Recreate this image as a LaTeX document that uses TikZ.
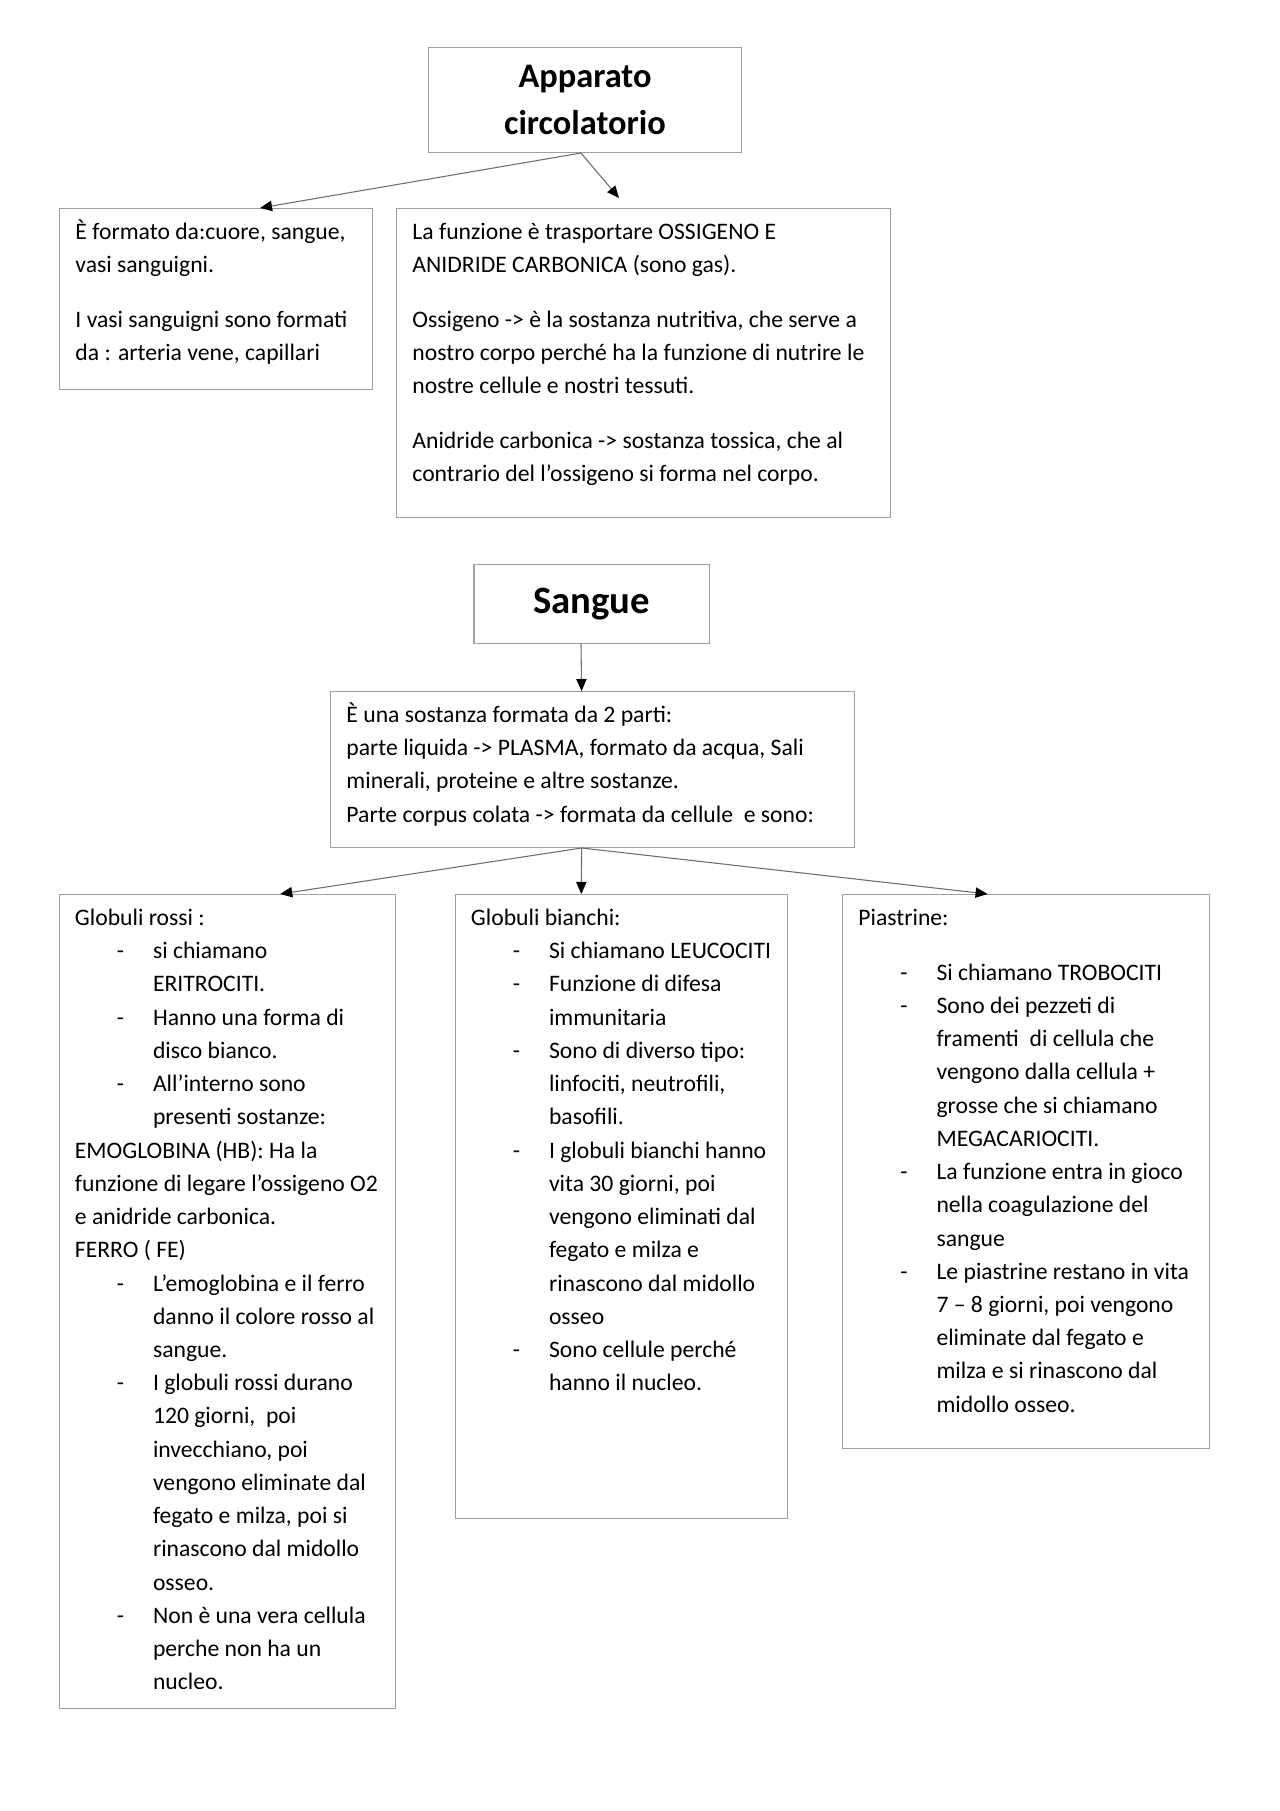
\documentclass[tikz,border=0pt]{standalone}
\usepackage{fontspec}
\setmainfont{Carlito}
\usetikzlibrary{arrows.meta,calc}

\definecolor{bordo}{HTML}{A0A0A0}
\definecolor{linea}{HTML}{6E6E6E}

\newcommand{\riquadro}[3]{\hspace{7.4pt}\parbox[t][#2][t]{\dimexpr#1-7.4pt\relax}{\raggedright\rule{0pt}{14.4pt}#3}}
\newcommand{\voce}{\makebox[36.3pt][l]{\hspace{19.5pt}-}}
\newcommand{\rientro}{\hspace*{36.3pt}}

\begin{document}
\begin{tikzpicture}[x=0.465pt, y=-0.465pt,
		cella/.style={draw=bordo, line width=0.5pt, inner sep=0pt, anchor=north west, font=\fontsize{11}{15.45}\selectfont},
		titolo/.style={draw=bordo, line width=0.5pt, align=center},
		freccia/.style={draw=linea, line width=0.5pt, -{Triangle[length=5.6pt, width=4.8pt, black]}}]
		\useasboundingbox (0,0) rectangle (1280,1811);

		\node[titolo, font=\bfseries\fontsize{16}{22}\selectfont, minimum width=145.3pt, minimum height=48.8pt, anchor=north] (apparato) at (585,47) {Apparato\\circolatorio};
		\node[cella] (formato) at (59,208) {\riquadro{145.5pt}{84.2pt}{È formato da:cuore, sangue,\\ vasi sanguigni.\\[10pt] I vasi sanguigni sono formati\\ da : arteria vene, capillari}};
		\node[cella] (funzione) at (396,208) {\riquadro{229.7pt}{143.5pt}{La funzione è trasportare OSSIGENO E\\ ANIDRIDE CARBONICA (sono gas).\\[10pt] Ossigeno -> è la sostanza nutritiva, che serve a\\ nostro corpo perché ha la funzione di nutrire le\\ nostre cellule e nostri tessuti.\\[10pt] Anidride carbonica -> sostanza tossica, che al\\ contrario del l’ossigeno si forma nel corpo.}};
		\coordinate (punta) at (619,198);

		\node[titolo, font=\bfseries\fontsize{18}{20}\selectfont, minimum width=109.3pt, minimum height=36.7pt] (sangue) at (591.5,604) {Sangue};
		\node[cella] (parti) at (330,691) {\riquadro{243.7pt}{72.5pt}{È una sostanza formata da 2 parti:\\ parte liquida -> PLASMA, formato da acqua, Sali\\ minerali, proteine e altre sostanze.\\ Parte corpus colata -> formata da cellule\ \ e sono:}};

		\node[cella] (rossi) at (58.5,894) {\riquadro{156.4pt}{378.6pt}{Globuli rossi :\\
			\voce si chiamano\\ \rientro ERITROCITI.\\
			\voce Hanno una forma di\\ \rientro disco bianco.\\
			\voce All’interno sono\\ \rientro presenti sostanze:\\
			EMOGLOBINA (HB): Ha la\\ funzione di legare l’ossigeno O2\\ e anidride carbonica.\\ FERRO ( FE)\\
			\voce L’emoglobina e il ferro\\ \rientro danno il colore rosso al\\ \rientro sangue.\\
			\voce I globuli rossi durano\\ \rientro 120 giorni,\ \ poi\\ \rientro invecchiano, poi\\ \rientro vengono eliminate dal\\ \rientro fegato e milza, poi si\\ \rientro rinascono dal midollo\\ \rientro osseo.\\
			\voce Non è una vera cellula\\ \rientro perche non ha un\\ \rientro nucleo.}};
		\node[cella] (bianchi) at (454.5,894) {\riquadro{154.6pt}{290.2pt}{Globuli bianchi:\\
			\voce Si chiamano LEUCOCITI\\
			\voce Funzione di difesa\\ \rientro immunitaria\\
			\voce Sono di diverso tipo:\\ \rientro linfociti, neutrofili,\\ \rientro basofili.\\
			\voce I globuli bianchi hanno\\ \rientro vita 30 giorni, poi\\ \rientro vengono eliminati dal\\ \rientro fegato e milza e\\ \rientro rinascono dal midollo\\ \rientro osseo\\
			\voce Sono cellule perché\\ \rientro hanno il nucleo.}};
		\node[cella] (piastrine) at (842,894) {\riquadro{170.7pt}{257.6pt}{Piastrine:\\[10pt]
			\voce Si chiamano TROBOCITI\\
			\voce Sono dei pezzeti di\\ \rientro framenti\ \ di cellula che\\ \rientro vengono dalla cellula +\\ \rientro grosse che si chiamano\\ \rientro MEGACARIOCITI.\\
			\voce La funzione entra in gioco\\ \rientro nella coagulazione del\\ \rientro sangue\\
			\voce Le piastrine restano in vita\\ \rientro 7 – 8 giorni, poi vengono\\ \rientro eliminate dal fegato e\\ \rientro milza e si rinascono dal\\ \rientro midollo osseo.}};

		\draw[freccia] ($(apparato.south)+(-4,0)$) -- ($(formato.north)+(44,0)$);
		\draw[freccia] ($(apparato.south)+(-4,0)$) -- (punta);
		\draw[freccia] ($(sangue.south)+(-10.5,0)$) -- ($(parti.north)+(-11,0)$);
		\draw[freccia] ($(parti.south)+(-11,0)$) -- ($(rossi.north)+(53,0)$);
		\draw[freccia] ($(parti.south)+(-11,0)$) -- ($(bianchi.north)+(-40,0)$);
		\draw[freccia] ($(parti.south)+(-11,0)$) -- ($(piastrine.north)+(-38.5,0)$);
	\end{tikzpicture}
\end{document}
